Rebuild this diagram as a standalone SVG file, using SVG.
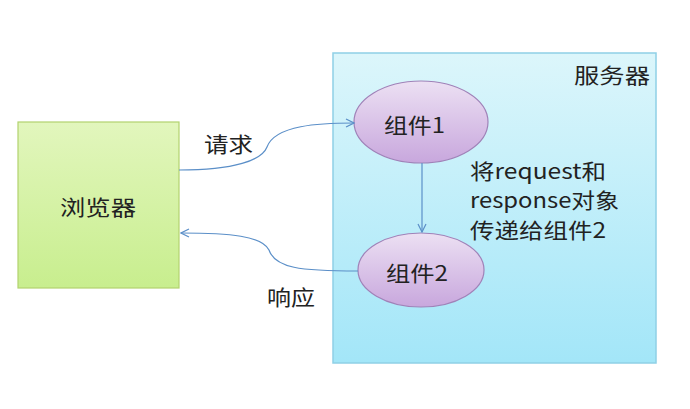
<svg xmlns="http://www.w3.org/2000/svg" width="690" height="409" viewBox="0 0 690 409">
<style>
text{font-family:"Noto Sans CJK SC","DejaVu Sans",sans-serif;fill:#222;font-size:21px}
.c{stroke:#5b8fc8;stroke-width:1.2;fill:none;marker-end:url(#a)}
</style>
<defs>
<linearGradient id="gs" x1="0" y1="0" x2="0" y2="1"><stop offset="0" stop-color="#dcf6fb"/><stop offset="1" stop-color="#a3e6f8"/></linearGradient>
<linearGradient id="gb" x1="0" y1="0" x2="0" y2="1"><stop offset="0" stop-color="#e2f6bd"/><stop offset="1" stop-color="#c8ee8e"/></linearGradient>
<linearGradient id="ge" x1="0" y1="0" x2="0" y2="1"><stop offset="0" stop-color="#ece0f3"/><stop offset="1" stop-color="#c8a7dd"/></linearGradient>
<marker id="a" markerWidth="10" markerHeight="10" refX="9" refY="5" orient="auto" markerUnits="userSpaceOnUse"><path d="M1,1 L9,5 L1,9" fill="none" stroke="#5b8fc8" stroke-width="1.2"/></marker>
</defs>
<rect width="690" height="409" fill="#fff"/>
<g id="server"><rect x="333" y="53" width="323" height="310" fill="url(#gs)" stroke="#8fd0e6" stroke-width="1.5"/><text x="574" y="83" textLength="76" lengthAdjust="spacingAndGlyphs">服务器</text></g>
<g id="browser"><rect x="18" y="122" width="161" height="166" fill="url(#gb)" stroke="#b2d36e" stroke-width="1.2"/><text x="60" y="215" textLength="76" lengthAdjust="spacingAndGlyphs">浏览器</text></g>
<g id="c1"><ellipse cx="421" cy="122" rx="67" ry="41" fill="url(#ge)" stroke="#a082b8" stroke-width="1.2"/><text x="384" y="133" textLength="61" lengthAdjust="spacingAndGlyphs">组件1</text></g>
<g id="c2"><ellipse cx="421" cy="270" rx="63" ry="37" fill="url(#ge)" stroke="#a082b8" stroke-width="1.2"/><text x="386" y="281" textLength="62" lengthAdjust="spacingAndGlyphs">组件2</text></g>
<g id="connectors">
<path class="c" d="M179,170 C235,170 262,160 267,147 C275,125 320,123 354,123"/>
<path class="c" d="M358,271 C300,271 275,268 269,250 C262,236 230,233 181,233"/>
<path class="c" d="M422,163 L422,232"/>
</g>
<text x="204" y="152" textLength="49" lengthAdjust="spacingAndGlyphs">请求</text>
<text x="267" y="305" textLength="48" lengthAdjust="spacingAndGlyphs">响应</text>
<g><text x="470" y="179" textLength="136" lengthAdjust="spacingAndGlyphs">将request和</text><text x="470" y="208" textLength="149" lengthAdjust="spacingAndGlyphs">response对象</text><text x="470" y="238" textLength="136" lengthAdjust="spacingAndGlyphs">传递给组件2</text></g>
</svg>
